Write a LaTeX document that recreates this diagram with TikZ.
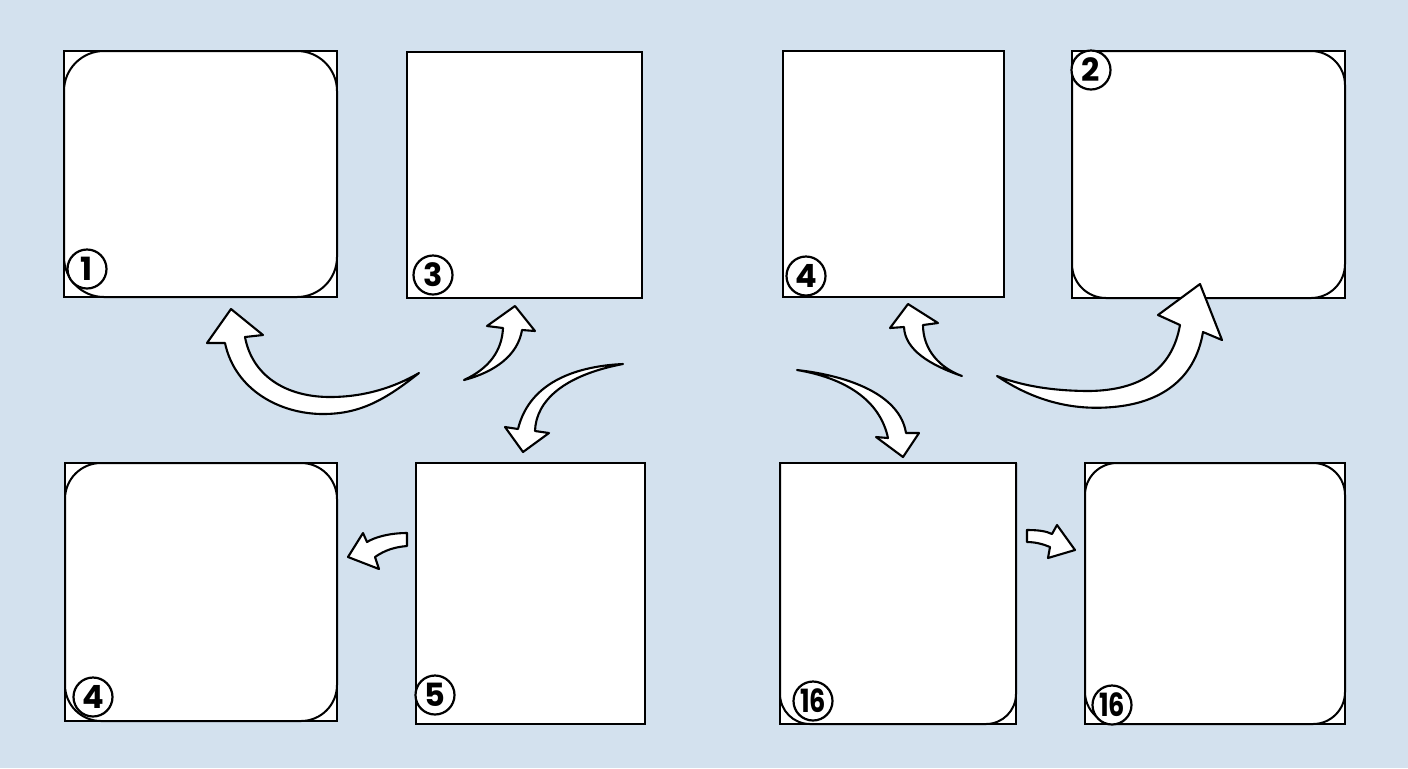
\documentclass[tikz,border=0pt]{standalone}
\usepackage{fontspec}
\setmainfont{Poppins}
\usepackage{graphicx}
\definecolor{paper}{RGB}{211,225,238}

\begin{document}
\begin{tikzpicture}[
  x=0.5pt,
  y=-0.5pt,
  panel/.style={draw=black, fill=white, line width=1pt, outer sep=0pt, inner sep=0pt},
  roundin/.style={draw=black, line width=1pt, rounded corners=#1},
  tag/.style={circle, draw=black, fill=white, line width=1.1pt, minimum size=19.5pt, inner sep=0pt, font=\fontsize{16}{16}\selectfont\bfseries},
  swoop/.style={draw=black, fill=white, line width=1.05pt, line join=round}
]
\fill[paper] (0,0) rectangle (1408,768);
\useasboundingbox (0,0) rectangle (1408,768);

% top row
\node[panel, minimum width=136.5pt, minimum height=123pt] (b1) at (200.5,174) {};
\node[panel, minimum width=117.5pt, minimum height=123pt] (b3) at (524.5,175) {};
\node[panel, minimum width=110.5pt, minimum height=123pt] (b4top) at (893.5,174) {};
\node[panel, minimum width=136.5pt, minimum height=123.5pt] (b2) at (1208.5,174.5) {};

% bottom row
\node[panel, minimum width=136pt, minimum height=129pt] (b4bot) at (201,592) {};
\node[panel, minimum width=114.5pt, minimum height=130.5pt] (b5) at (530.5,593.5) {};
\node[panel, minimum width=118pt, minimum height=130.5pt] (b16l) at (898,593.5) {};
\node[panel, minimum width=130pt, minimum height=130.5pt] (b16r) at (1215,593.5) {};

% rounded insets
\draw[roundin=20pt] (b1.south west) rectangle (b1.north east);
\draw[roundin=17pt] (b2.south west) rectangle (b2.north east);
\draw[roundin=18pt] (b4bot.south west) rectangle (b4bot.north east);
\draw[roundin=16pt] (b16r.south west) rectangle (b16r.north east);
\draw[roundin=15pt] (b16l.north west) -- (b16l.south west) -- (b16l.south east) -- (b16l.north east);

% number tags
\node[tag] (t1) at (87,269) {1};
\node[tag] (t3) at (433,275) {3};
\node[tag] (t4top) at (806,276) {4};
\node[tag] (t2) at (1091,70) {2};
\node[tag] (t4bot) at (93,697) {4};
\node[tag] (t5) at (435,695) {5};
\node[tag] (t16l) at (813,701) {\scalebox{0.8}[1]{16}};
\node[tag] (t16r) at (1112,705) {\scalebox{0.8}[1]{16}};

% curved arrows, left half
\draw[swoop] (419,373) .. controls (385,400) and (360,414) .. (323,414)
  .. controls (280,414) and (235,390) .. (225,343) -- (207,343) -- (231,309) -- (263,335) -- (245,337)
  .. controls (252,375) and (285,397) .. (330,397) .. controls (365,397) and (395,387) .. (419,373) -- cycle;
\draw[swoop] (464,380) .. controls (495,372) and (518,355) .. (522,330) -- (535,331) -- (515,306) -- (487,326) -- (503,328)
  .. controls (502,350) and (490,368) .. (464,380) -- cycle;
\draw[swoop] (623,364) .. controls (580,366) and (530,380) .. (518,429) -- (505,427) -- (523,452) -- (549,433) -- (535,431)
  .. controls (536,400) and (565,375) .. (623,364) -- cycle;
\draw[swoop] (407,533) .. controls (390,533) and (375,537) .. (367,542) -- (363,533) -- (348,557) -- (379,569) -- (375,557)
  .. controls (385,550) and (395,547) .. (407,546) -- cycle;

% curved arrows, right half
\draw[swoop] (797,370) .. controls (850,376) and (900,395) .. (906,433) -- (919,433) -- (903,457) -- (876,437) -- (888,438)
  .. controls (880,400) and (845,378) .. (797,370) -- cycle;
\draw[swoop] (962,376) .. controls (930,365) and (905,350) .. (904,327) -- (890,328) -- (908,304) -- (938,323) -- (923,325)
  .. controls (923,350) and (940,368) .. (962,376) -- cycle;
\draw[swoop] (997,376) .. controls (1040,405) and (1080,410) .. (1113,407) .. controls (1160,403) and (1195,380) .. (1203,332)
  -- (1222,340) -- (1200,284) -- (1158,315) -- (1180,325)
  .. controls (1172,370) and (1140,390) .. (1090,391) .. controls (1050,391) and (1020,385) .. (997,376) -- cycle;
\draw[swoop] (1027,530) .. controls (1038,530) and (1046,531) .. (1052,534) -- (1057,525) -- (1075,550) -- (1048,558) -- (1050,547)
  .. controls (1043,544) and (1035,542) .. (1027,542) -- cycle;
\end{tikzpicture}
\end{document}
